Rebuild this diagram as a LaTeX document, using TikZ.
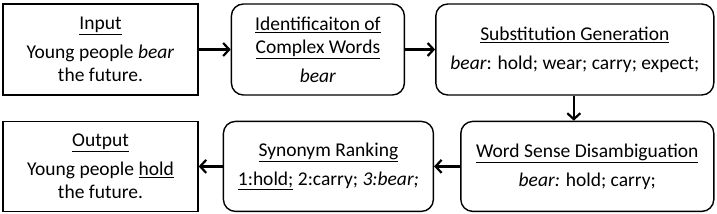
\documentclass[tikz,border=0pt]{standalone}
\usepackage{fontspec}
\setmainfont{Carlito}
\usepackage{tikz}
\usetikzlibrary{positioning,arrows.meta}
\tikzset{
  stage/.style={rectangle, draw=black, line width=1.4pt, rounded corners=12pt,
                minimum height=91pt, inner sep=2pt, align=center,
                font=\fontsize{19.5}{23}\selectfont},
  io/.style={stage, rounded corners=0pt},
  arr/.style={-{Straight Barb[length=6pt, width=13pt, line width=2.2pt]}, line width=2.6pt, draw=black},
}
\newcommand{\ttl}[1]{\underline{#1}}

\begin{document}
\begin{tikzpicture}
    \useasboundingbox (0,0) rectangle (717pt,-214pt);
    \node[io, minimum width=195pt] (input) at (100.5pt,-49.5pt) {%
      \ttl{Input}\\[6pt] Young people \textit{bear}\\ the future.};
    \node[stage, minimum width=173pt, right=32pt of input] (ident) {%
      \ttl{Identificaiton of}\\ \ttl{Complex Words}\\[6pt] \textit{bear}};
    \node[stage, minimum width=278pt, right=30pt of ident] (subst) {%
      \ttl{Substitution Generation}\\[6pt] \textit{bear}: hold; wear; carry; expect;};
    \node[stage, minimum width=253pt, minimum height=90pt,
          below left=25pt and 0pt of subst.south east] (wsd) {%
      \ttl{Word Sense Disambiguation}\\[6pt] \textit{bear:} hold; carry;};
    \node[stage, minimum width=210pt, minimum height=90pt, left=26pt of wsd] (rank) {%
      \ttl{Synonym Ranking}\\[6pt] \ttl{1:hold;} 2:carry; \textit{3:bear;}};
    \node[io, minimum width=195pt, minimum height=90pt, left=24pt of rank] (output) {%
      \ttl{Output}\\[6pt] Young people \ttl{hold}\\ the future.};
    \draw[arr] (input) -- (ident);
    \draw[arr] (ident) -- (subst);
    \draw[arr] ([xshift=-1pt]subst.south) -- ([xshift=-1pt]subst.south |- wsd.north);
    \draw[arr] (wsd) -- (rank);
    \draw[arr] (rank) -- (output);
  \end{tikzpicture}
\end{document}
